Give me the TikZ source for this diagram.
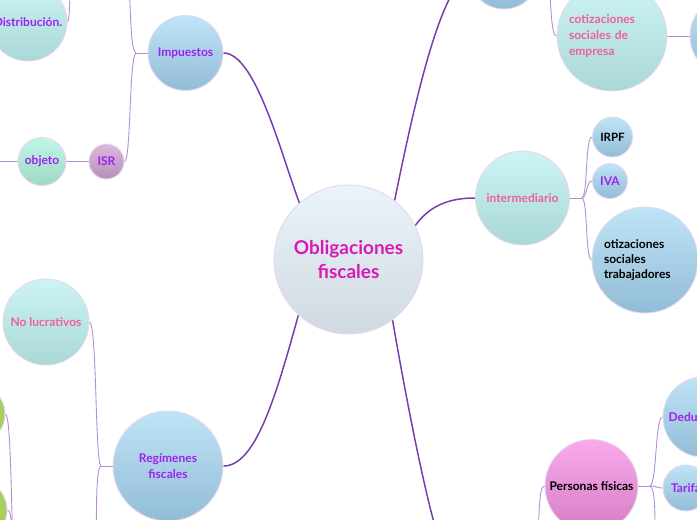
\documentclass[tikz,border=0pt]{standalone}
\usepackage{fontspec}
\setmainfont{Lato}
\usetikzlibrary{backgrounds}
\definecolor{mainline}{RGB}{122,61,176}
\definecolor{subline}{RGB}{182,142,212}
\definecolor{bord}{RGB}{230,214,242}
\definecolor{ptext}{RGB}{160,32,240}
\definecolor{pktext}{RGB}{240,96,156}
\definecolor{ctext}{RGB}{216,26,180}
\definecolor{centtop}{RGB}{234,244,250}
\definecolor{centbot}{RGB}{207,217,224}
\definecolor{bluetop}{RGB}{191,228,246}
\definecolor{bluebot}{RGB}{146,188,214}
\definecolor{tealtop}{RGB}{205,244,244}
\definecolor{tealbot}{RGB}{169,216,214}
\definecolor{minttop}{RGB}{192,246,230}
\definecolor{mintbot}{RGB}{159,216,196}
\definecolor{mautop}{RGB}{220,184,220}
\definecolor{maubot}{RGB}{183,144,184}
\definecolor{pinktop}{RGB}{248,170,236}
\definecolor{pinkbot}{RGB}{214,124,196}
\definecolor{greenfill}{RGB}{166,208,92}
\tikzset{
  bub/.style={circle, draw=bord, line width=0.9pt, inner sep=0pt, align=center,
    font=\bfseries\fontsize{12}{15.5}\selectfont},
  central/.style={bub, top color=centtop, bottom color=centbot, text=ctext,
    font=\bfseries\fontsize{19}{24}\selectfont},
  bluebub/.style={bub, top color=bluetop, bottom color=bluebot},
  tealbub/.style={bub, top color=tealtop, bottom color=tealbot},
  mintbub/.style={bub, top color=minttop, bottom color=mintbot},
  maubub/.style={bub, top color=mautop, bottom color=maubot},
  pinkbub/.style={bub, top color=pinktop, bottom color=pinkbot},
  greenbub/.style={bub, fill=greenfill},
  mainconn/.style={draw=mainline, line width=1.5pt},
  subconn/.style={draw=subline, line width=0.9pt},
}
\begin{document}
\begin{tikzpicture}[x=1pt,y=-1pt]
\useasboundingbox (0,0) rectangle (697,520);
\clip (0,0) rectangle (697,520);
% nodes
\node[central, minimum size=149pt] (c) at (348.5,259.5) {Obligaciones\\fiscales};
\node[bluebub, text=ptext, minimum size=75pt] (imp) at (185.5,53) {Impuestos};
\node[tealbub, text=ptext, minimum size=78pt] (dist) at (28,22) {Distribución.};
\node[maubub, text=ptext, minimum size=35pt] (isr) at (106.5,161.5) {ISR};
\node[mintbub, text=ptext, minimum size=48pt] (obj) at (42,161.5) {objeto};
\node[bluebub, minimum size=70pt] (top) at (504,-26) {};
\node[tealbub, text=pktext, minimum size=110pt, text width=86pt, align=left,
  font=\bfseries\fontsize{12}{16}\selectfont] (cot) at (612,36) {cotizaciones\\sociales de\\empresa};
\node[bluebub, minimum size=80pt] (rn) at (730,36) {};
\node[tealbub, text=pktext, minimum size=94pt] (inter) at (522.5,198) {intermediario};
\node[bluebub, text=black, minimum size=40pt, font=\bfseries\fontsize{11.5}{14}\selectfont] (irpf) at (612.5,137) {IRPF};
\node[bluebub, text=ptext, minimum size=35pt] (iva) at (610,181) {IVA};
\node[bluebub, text=black, minimum size=106pt, text width=82pt, align=left,
  font=\bfseries\fontsize{12}{15}\selectfont] (otiz) at (645,260) {otizaciones\\sociales\\trabajadores};
\node[bluebub, text=ptext, minimum size=110pt] (reg) at (168,466) {Regímenes\\fiscales};
\node[tealbub, text=pktext, minimum size=86pt] (nol) at (46,322) {No lucrativos};
\node[greenbub, minimum size=60pt] (g1) at (-25,414) {};
\node[greenbub, minimum size=62pt] (g2) at (-24,510) {};
\node[pinkbub, text=black, minimum size=93pt] (pf) at (591.5,486) {Personas físicas};
\node[bluebub, text=ptext, minimum size=80pt] (ded) at (703,417) {Deducciones};
\node[bluebub, text=ptext, minimum size=46pt] (tar) at (686,488) {Tarifa};
% off-page ends
\coordinate (cbot) at (445,560);
\coordinate (dup) at (72,-40);
\coordinate (iup) at (128,-40);
\coordinate (ooff) at (-30,161.5);
\coordinate (roff) at (96,560);
\coordinate (goff) at (14,580);
\coordinate (pfoff) at (536,560);
\coordinate (pboff) at (655,560);
\begin{pgfonlayer}{background}
% main branches
\draw[mainconn] (c.131) .. controls (280,150) and (255,53) .. (imp.east);
\draw[mainconn] (c.52) .. controls (415,100) and (440,-10) .. (top.west);
\draw[mainconn] (c.27) .. controls (430,205) and (450,198) .. (inter.west);
\draw[mainconn] (c.228) .. controls (275,400) and (255,466) .. (reg.east);
\draw[mainconn] (c.-54) .. controls (410,420) and (428,510) .. (cbot);
% Impuestos
\draw[subconn] (imp.west) -- (136,53) coordinate (ib);
\draw[subconn] (ib) .. controls (130,50) and (131,10) .. (iup);
\draw[subconn] (ib) .. controls (129,58) and (131,162) .. (isr.east);
\draw[subconn] (dist.east) .. controls (70,20) and (69,0) .. (dup);
\draw[subconn] (isr.west) -- (obj.east);
\draw[subconn] (obj.west) -- (ooff);
% top / cotizaciones
\draw[subconn] (top.east) -- (546,-26) coordinate (tb);
\draw[subconn] (tb) .. controls (552,-22) and (549,36) .. (cot.west);
\draw[subconn] (cot.east) -- (rn.west);
% intermediario
\draw[subconn] (inter.east) -- (582,198) coordinate (nb);
\draw[subconn] (nb) .. controls (588,195) and (585,137) .. (irpf.west);
\draw[subconn] (nb) .. controls (588,196) and (586,181) .. (iva.west);
\draw[subconn] (nb) .. controls (588,200) and (585,258) .. (otiz.west);
% Regímenes
\draw[subconn] (reg.west) -- (101,466) coordinate (rb);
\draw[subconn] (rb) .. controls (95,463) and (97,322) .. (nol.east);
\draw[subconn] (rb) .. controls (95,469) and (97,520) .. (roff);
% green
\draw[subconn] (g1.east) .. controls (11,416) and (11,500) .. (goff);
\draw[subconn] (g2.east) .. controls (12,510) and (12,530) .. (goff);
% Personas fisicas
\draw[subconn] (pf.west) .. controls (538,486) and (540,520) .. (pfoff);
\draw[subconn] (pf.east) -- (650,486) coordinate (pb);
\draw[subconn] (pb) .. controls (657,483) and (655,417) .. (ded.west);
\draw[subconn] (pb) .. controls (656,486) and (657,488) .. (tar.west);
\draw[subconn] (pb) .. controls (656,489) and (655,520) .. (pboff);
\end{pgfonlayer}
\end{tikzpicture}
\end{document}
